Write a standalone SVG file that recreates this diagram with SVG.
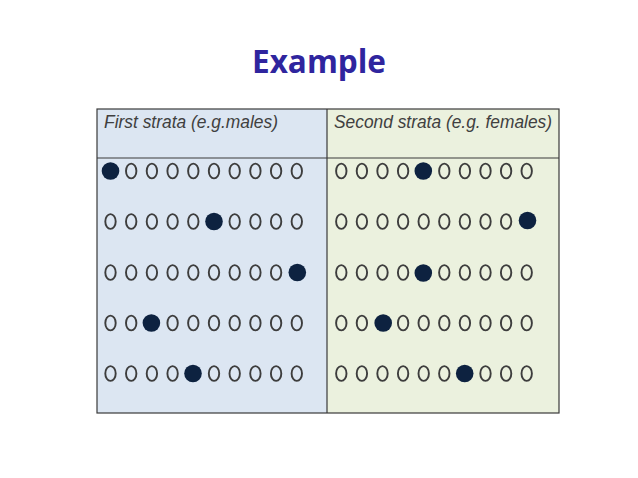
<svg xmlns="http://www.w3.org/2000/svg" width="638" height="478" viewBox="0 0 638 478">
<style>
.o{fill:none;stroke:#3d3d3d;stroke-width:1.9}
.f{fill:#0d2240}
.hd{font-family:"Liberation Sans",Arial,sans-serif;font-style:italic;font-size:17.5px;fill:#404040}
.ttl{font-family:"Open Sans","Liberation Sans",sans-serif;font-weight:bold;font-size:33px;fill:#2f259e}
.ln{stroke:#3a3a3a;stroke-width:1.2;fill:none}
</style>
<rect width="638" height="478" fill="#ffffff"/>
<text class="ttl" x="319" y="73" text-anchor="middle" textLength="134" lengthAdjust="spacingAndGlyphs">Example</text>
<g id="table">
<rect x="97" y="109" width="230" height="304" fill="#dce6f2"/>
<rect x="327" y="109" width="232" height="304" fill="#ebf1de"/>
<rect class="ln" x="97" y="109" width="462" height="304"/>
<line class="ln" x1="97" y1="158" x2="559" y2="158"/>
<line class="ln" x1="327" y1="109" x2="327" y2="413"/>
<text class="hd" x="104" y="128" textLength="174" lengthAdjust="spacingAndGlyphs">First strata (e.g.males)</text>
<text class="hd" x="334" y="128" textLength="218" lengthAdjust="spacingAndGlyphs">Second strata (e.g. females)</text>
</g>
<g id="males">
<g id="m1">
<circle class="f" cx="110.5" cy="171" r="8.8"/>
<ellipse class="o" cx="131.2" cy="171" rx="5.2" ry="7.4"/><ellipse class="o" cx="151.9" cy="171" rx="5.2" ry="7.4"/><ellipse class="o" cx="172.6" cy="171" rx="5.2" ry="7.4"/><ellipse class="o" cx="193.3" cy="171" rx="5.2" ry="7.4"/><ellipse class="o" cx="214" cy="171" rx="5.2" ry="7.4"/><ellipse class="o" cx="234.7" cy="171" rx="5.2" ry="7.4"/><ellipse class="o" cx="255.4" cy="171" rx="5.2" ry="7.4"/><ellipse class="o" cx="276.1" cy="171" rx="5.2" ry="7.4"/><ellipse class="o" cx="296.8" cy="171" rx="5.2" ry="7.4"/>
</g>
<g id="m2">
<ellipse class="o" cx="110.5" cy="221.5" rx="5.2" ry="7.4"/><ellipse class="o" cx="131.2" cy="221.5" rx="5.2" ry="7.4"/><ellipse class="o" cx="151.9" cy="221.5" rx="5.2" ry="7.4"/><ellipse class="o" cx="172.6" cy="221.5" rx="5.2" ry="7.4"/><ellipse class="o" cx="193.3" cy="221.5" rx="5.2" ry="7.4"/>
<circle class="f" cx="214" cy="221.5" r="8.8"/>
<ellipse class="o" cx="234.7" cy="221.5" rx="5.2" ry="7.4"/><ellipse class="o" cx="255.4" cy="221.5" rx="5.2" ry="7.4"/><ellipse class="o" cx="276.1" cy="221.5" rx="5.2" ry="7.4"/><ellipse class="o" cx="296.8" cy="221.5" rx="5.2" ry="7.4"/>
</g>
<g id="m3">
<ellipse class="o" cx="110.5" cy="272.5" rx="5.2" ry="7.4"/><ellipse class="o" cx="131.2" cy="272.5" rx="5.2" ry="7.4"/><ellipse class="o" cx="151.9" cy="272.5" rx="5.2" ry="7.4"/><ellipse class="o" cx="172.6" cy="272.5" rx="5.2" ry="7.4"/><ellipse class="o" cx="193.3" cy="272.5" rx="5.2" ry="7.4"/><ellipse class="o" cx="214" cy="272.5" rx="5.2" ry="7.4"/><ellipse class="o" cx="234.7" cy="272.5" rx="5.2" ry="7.4"/><ellipse class="o" cx="255.4" cy="272.5" rx="5.2" ry="7.4"/><ellipse class="o" cx="276.1" cy="272.5" rx="5.2" ry="7.4"/>
<circle class="f" cx="297.3" cy="272.5" r="8.8"/>
</g>
<g id="m4">
<ellipse class="o" cx="110.5" cy="323" rx="5.2" ry="7.4"/><ellipse class="o" cx="131.2" cy="323" rx="5.2" ry="7.4"/>
<circle class="f" cx="151.4" cy="323" r="8.8"/>
<ellipse class="o" cx="172.6" cy="323" rx="5.2" ry="7.4"/><ellipse class="o" cx="193.3" cy="323" rx="5.2" ry="7.4"/><ellipse class="o" cx="214" cy="323" rx="5.2" ry="7.4"/><ellipse class="o" cx="234.7" cy="323" rx="5.2" ry="7.4"/><ellipse class="o" cx="255.4" cy="323" rx="5.2" ry="7.4"/><ellipse class="o" cx="276.1" cy="323" rx="5.2" ry="7.4"/><ellipse class="o" cx="296.8" cy="323" rx="5.2" ry="7.4"/>
</g>
<g id="m5">
<ellipse class="o" cx="110.5" cy="373.5" rx="5.2" ry="7.4"/><ellipse class="o" cx="131.2" cy="373.5" rx="5.2" ry="7.4"/><ellipse class="o" cx="151.9" cy="373.5" rx="5.2" ry="7.4"/><ellipse class="o" cx="172.6" cy="373.5" rx="5.2" ry="7.4"/>
<circle class="f" cx="193" cy="373.5" r="8.8"/>
<ellipse class="o" cx="214" cy="373.5" rx="5.2" ry="7.4"/><ellipse class="o" cx="234.7" cy="373.5" rx="5.2" ry="7.4"/><ellipse class="o" cx="255.4" cy="373.5" rx="5.2" ry="7.4"/><ellipse class="o" cx="276.1" cy="373.5" rx="5.2" ry="7.4"/><ellipse class="o" cx="296.8" cy="373.5" rx="5.2" ry="7.4"/>
</g>
</g>
<g id="females">
<g id="f1">
<ellipse class="o" cx="341.3" cy="171" rx="5.2" ry="7.4"/><ellipse class="o" cx="361.9" cy="171" rx="5.2" ry="7.4"/><ellipse class="o" cx="382.5" cy="171" rx="5.2" ry="7.4"/><ellipse class="o" cx="403.1" cy="171" rx="5.2" ry="7.4"/>
<circle class="f" cx="423.3" cy="171" r="8.8"/>
<ellipse class="o" cx="444.3" cy="171" rx="5.2" ry="7.4"/><ellipse class="o" cx="464.9" cy="171" rx="5.2" ry="7.4"/><ellipse class="o" cx="485.5" cy="171" rx="5.2" ry="7.4"/><ellipse class="o" cx="506.1" cy="171" rx="5.2" ry="7.4"/><ellipse class="o" cx="526.7" cy="171" rx="5.2" ry="7.4"/>
</g>
<g id="f2">
<ellipse class="o" cx="341.3" cy="221.5" rx="5.2" ry="7.4"/><ellipse class="o" cx="361.9" cy="221.5" rx="5.2" ry="7.4"/><ellipse class="o" cx="382.5" cy="221.5" rx="5.2" ry="7.4"/><ellipse class="o" cx="403.1" cy="221.5" rx="5.2" ry="7.4"/><ellipse class="o" cx="423.7" cy="221.5" rx="5.2" ry="7.4"/><ellipse class="o" cx="444.3" cy="221.5" rx="5.2" ry="7.4"/><ellipse class="o" cx="464.9" cy="221.5" rx="5.2" ry="7.4"/><ellipse class="o" cx="485.5" cy="221.5" rx="5.2" ry="7.4"/><ellipse class="o" cx="506.1" cy="221.5" rx="5.2" ry="7.4"/>
<circle class="f" cx="527.5" cy="220.5" r="8.8"/>
</g>
<g id="f3">
<ellipse class="o" cx="341.3" cy="272.5" rx="5.2" ry="7.4"/><ellipse class="o" cx="361.9" cy="272.5" rx="5.2" ry="7.4"/><ellipse class="o" cx="382.5" cy="272.5" rx="5.2" ry="7.4"/><ellipse class="o" cx="403.1" cy="272.5" rx="5.2" ry="7.4"/>
<circle class="f" cx="423.3" cy="273" r="8.8"/>
<ellipse class="o" cx="444.3" cy="272.5" rx="5.2" ry="7.4"/><ellipse class="o" cx="464.9" cy="272.5" rx="5.2" ry="7.4"/><ellipse class="o" cx="485.5" cy="272.5" rx="5.2" ry="7.4"/><ellipse class="o" cx="506.1" cy="272.5" rx="5.2" ry="7.4"/><ellipse class="o" cx="526.7" cy="272.5" rx="5.2" ry="7.4"/>
</g>
<g id="f4">
<ellipse class="o" cx="341.3" cy="323" rx="5.2" ry="7.4"/><ellipse class="o" cx="361.9" cy="323" rx="5.2" ry="7.4"/>
<circle class="f" cx="383.2" cy="323" r="8.8"/>
<ellipse class="o" cx="403.1" cy="323" rx="5.2" ry="7.4"/><ellipse class="o" cx="423.7" cy="323" rx="5.2" ry="7.4"/><ellipse class="o" cx="444.3" cy="323" rx="5.2" ry="7.4"/><ellipse class="o" cx="464.9" cy="323" rx="5.2" ry="7.4"/><ellipse class="o" cx="485.5" cy="323" rx="5.2" ry="7.4"/><ellipse class="o" cx="506.1" cy="323" rx="5.2" ry="7.4"/><ellipse class="o" cx="526.7" cy="323" rx="5.2" ry="7.4"/>
</g>
<g id="f5">
<ellipse class="o" cx="341.3" cy="373.5" rx="5.2" ry="7.4"/><ellipse class="o" cx="361.9" cy="373.5" rx="5.2" ry="7.4"/><ellipse class="o" cx="382.5" cy="373.5" rx="5.2" ry="7.4"/><ellipse class="o" cx="403.1" cy="373.5" rx="5.2" ry="7.4"/><ellipse class="o" cx="423.7" cy="373.5" rx="5.2" ry="7.4"/><ellipse class="o" cx="444.3" cy="373.5" rx="5.2" ry="7.4"/>
<circle class="f" cx="464.7" cy="373.5" r="8.8"/>
<ellipse class="o" cx="485.5" cy="373.5" rx="5.2" ry="7.4"/><ellipse class="o" cx="506.1" cy="373.5" rx="5.2" ry="7.4"/><ellipse class="o" cx="526.7" cy="373.5" rx="5.2" ry="7.4"/>
</g>
</g>
<g id="connectors"/>
</svg>
